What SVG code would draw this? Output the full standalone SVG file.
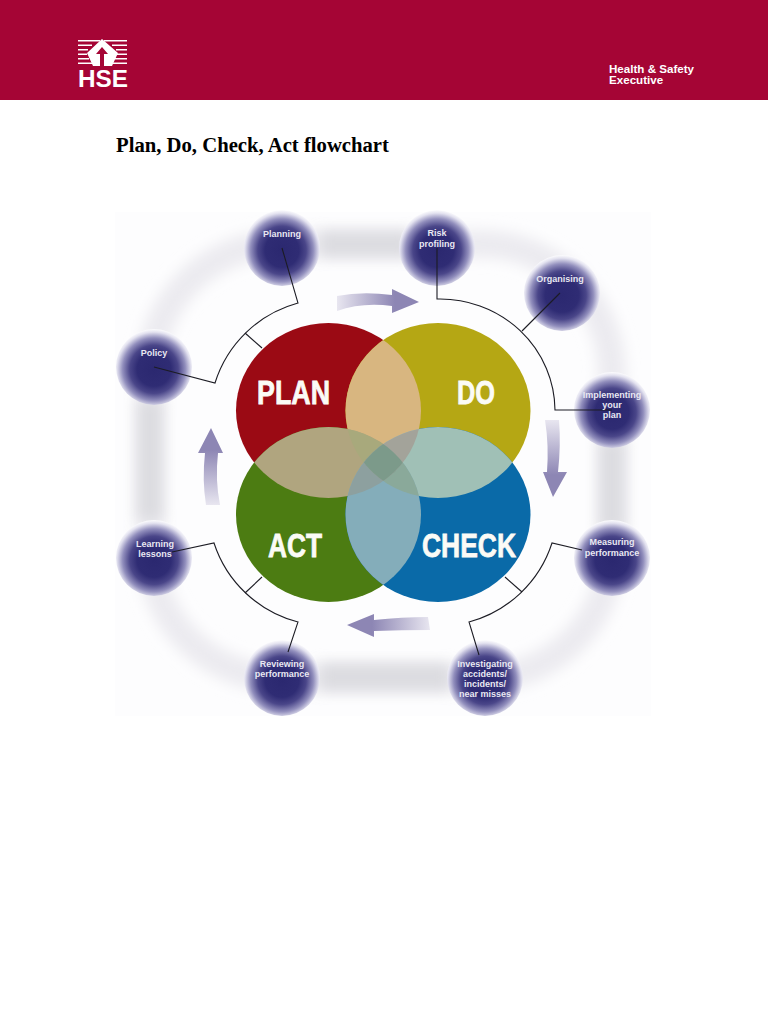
<svg xmlns="http://www.w3.org/2000/svg" width="768" height="1024" viewBox="0 0 768 1024">
<style>
.cn{fill:none;stroke:#1c1c24;stroke-width:1.1}
.nl{font-family:"Liberation Sans",Arial,sans-serif;font-weight:bold;font-size:9px;fill:#e9e8f2;text-anchor:middle}
.big{font-family:"Liberation Sans",Arial,sans-serif;font-weight:bold;font-size:34px;fill:#fbfbf6;stroke:#fbfbf6;stroke-width:0.8}
.ds{fill:url(#disc)}
</style>
<defs>
<filter id="blur" x="-20%" y="-20%" width="140%" height="140%"><feGaussianBlur stdDeviation="7"/></filter>
<radialGradient id="disc" cx="0.5" cy="0.53" r="0.53">
<stop offset="0" stop-color="#2b2870"/><stop offset="0.42" stop-color="#2f2c74"/><stop offset="0.6" stop-color="#4a4689"/><stop offset="0.78" stop-color="#928fbd"/><stop offset="0.92" stop-color="#e2e1ef"/><stop offset="1" stop-color="#fdfdfe"/>
</radialGradient>
<clipPath id="cP"><ellipse cx="328.5" cy="410.5" rx="92.5" ry="87.5"/></clipPath>
<clipPath id="cD"><ellipse cx="438" cy="410.5" rx="92.5" ry="87.5"/></clipPath>
<clipPath id="cA"><ellipse cx="328.5" cy="514.5" rx="92.5" ry="87.5"/></clipPath>
<clipPath id="cC"><ellipse cx="438" cy="514.5" rx="92.5" ry="87.5"/></clipPath>
<linearGradient id="aT" gradientUnits="userSpaceOnUse" x1="337" y1="0" x2="395" y2="0"><stop offset="0" stop-color="#e8e6f0"/><stop offset="1" stop-color="#8d86b4"/></linearGradient>
<linearGradient id="aR" gradientUnits="userSpaceOnUse" x1="0" y1="420" x2="0" y2="475"><stop offset="0" stop-color="#e8e6f0"/><stop offset="1" stop-color="#8d86b4"/></linearGradient>
<linearGradient id="aB" gradientUnits="userSpaceOnUse" x1="430" y1="0" x2="372" y2="0"><stop offset="0" stop-color="#e8e6f0"/><stop offset="1" stop-color="#8d86b4"/></linearGradient>
<linearGradient id="aL" gradientUnits="userSpaceOnUse" x1="0" y1="505" x2="0" y2="450"><stop offset="0" stop-color="#e8e6f0"/><stop offset="1" stop-color="#8d86b4"/></linearGradient>
</defs>
<rect width="768" height="1024" fill="#ffffff"/>
<g id="header">
<rect width="768" height="100" fill="#a50535"/>
<g id="logo" fill="#ffffff">
<path d="M78 40h22v1.600H78zM78 44.500h14v1.600H78zM78 49h10v1.600H78zM78 53.500h9v1.600H78zM78 58h11v1.600H78zM78 62.500h15v1.600H78zM104 40h23v1.600h-23zM112 44.500h15v1.600h-15zM116 49h11v1.600h-11zM117 53.500h10v1.600h-10zM115 58h12v1.600h-12zM110 62.500h17v1.600h-17z"/>
<path d="M102 39 L87 53 L93 66 L100 66 L100 54 L96 54 L102 47 L108 54 L104 54 L104 66 L112 66 L118 53Z"/>
<text x="78" y="87" font-family="'Liberation Sans',Arial,sans-serif" font-weight="bold" font-size="24" textLength="50" lengthAdjust="spacingAndGlyphs">HSE</text>
</g>
<g font-family="'Liberation Sans',Arial,sans-serif" font-weight="bold" font-size="11.600" fill="#ffffff">
<text x="609" y="73">Health &amp; Safety</text>
<text x="609" y="84">Executive</text>
</g>
</g>
<text id="title" x="116" y="151.500" font-family="'Liberation Serif','Times New Roman',serif" font-weight="bold" font-size="20.700" fill="#000000">Plan, Do, Check, Act flowchart</text>
<g id="backdrop">
<rect x="115" y="212" width="536" height="504" fill="#fdfdfe"/>
<rect x="150" y="244" width="462" height="434" rx="130" fill="none" stroke="#ecebf0" stroke-width="28" filter="url(#blur)"/>
<g filter="url(#blur)" fill="#dcdce0">
<rect x="138" y="400" width="24" height="120"/>
<rect x="600" y="440" width="24" height="90"/>
<rect x="320" y="664" width="130" height="26"/>
<rect x="320" y="232" width="90" height="24"/>
</g>
</g>
<g id="arrows">
<path fill="url(#aT)" d="M337 296 Q362 291 392 295 L392 289 L419 302 L392 313 L392 306 Q362 302 337 311Z"/>
<path fill="url(#aR)" d="M545 420 Q549 445 547 472 L543 472 L553 497 L567 472 L558 472 Q561 445 559 420Z"/>
<path fill="url(#aB)" d="M430 630 Q402 630 374 631 L374 637 L347 625 L374 614 L374 620 Q402 617 428 617Z"/>
<path fill="url(#aL)" d="M220 505 Q215 480 218 453 L223 453 L211 428 L198 453 L205 453 Q202 480 206 505Z"/>
</g>
<g id="venn">
<g id="plan"><ellipse cx="328.500" cy="410.500" rx="92.500" ry="87.500" fill="#9b0a14"/></g>
<g id="do"><ellipse cx="438" cy="410.500" rx="92.500" ry="87.500" fill="#b5a714"/></g>
<g id="act"><ellipse cx="328.500" cy="514.500" rx="92.500" ry="87.500" fill="#4c7c12"/></g>
<g id="check"><ellipse cx="438" cy="514.500" rx="92.500" ry="87.500" fill="#0a6aa8"/></g>
<ellipse cx="438" cy="410.500" rx="92.500" ry="87.500" fill="#d8b680" clip-path="url(#cP)"/>
<ellipse cx="328.500" cy="514.500" rx="92.500" ry="87.500" fill="#b0a57f" clip-path="url(#cP)"/>
<ellipse cx="438" cy="514.500" rx="92.500" ry="87.500" fill="#a0c0b6" clip-path="url(#cD)"/>
<ellipse cx="438" cy="514.500" rx="92.500" ry="87.500" fill="#84adba" clip-path="url(#cA)"/>
<g clip-path="url(#cP)"><ellipse cx="438" cy="410.500" rx="92.500" ry="87.500" fill="#a8a97c" clip-path="url(#cA)"/></g>
<g clip-path="url(#cD)"><ellipse cx="328.500" cy="514.500" rx="92.500" ry="87.500" fill="#8aa99a" clip-path="url(#cC)"/></g>
<g clip-path="url(#cP)"><ellipse cx="438" cy="514.500" rx="92.500" ry="87.500" fill="#8da09f" clip-path="url(#cA)"/></g>
<g clip-path="url(#cP)"><ellipse cx="438" cy="514.500" rx="92.500" ry="87.500" fill="#a3a39a" clip-path="url(#cD)"/></g>
<g clip-path="url(#cP)"><g clip-path="url(#cD)"><ellipse cx="328.500" cy="514.500" rx="92.500" ry="87.500" fill="#7c9a8a" clip-path="url(#cC)"/></g></g>
<text class="big" x="257" y="404" textLength="73" lengthAdjust="spacingAndGlyphs">PLAN</text>
<text class="big" x="457" y="404" textLength="38" lengthAdjust="spacingAndGlyphs">DO</text>
<text class="big" x="268" y="557" textLength="54" lengthAdjust="spacingAndGlyphs">ACT</text>
<text class="big" x="422" y="557" textLength="94" lengthAdjust="spacingAndGlyphs">CHECK</text>
</g>
<g id="discs">
<circle class="ds" cx="282" cy="248" r="38"/>
<circle class="ds" cx="437" cy="248" r="38"/>
<circle class="ds" cx="562" cy="293" r="38"/>
<circle class="ds" cx="154" cy="367" r="38"/>
<circle class="ds" cx="612" cy="410" r="38"/>
<circle class="ds" cx="154" cy="558" r="38"/>
<circle class="ds" cx="612" cy="558" r="38"/>
<circle class="ds" cx="282" cy="678" r="38"/>
<circle class="ds" cx="485" cy="678" r="38"/>
</g>
<g id="connectors">
<path class="cn" d="M154 367L215 383A120 120 0 0 1 298 303L282 248"/>
<path class="cn" d="M245 333L262 348"/>
<path class="cn" d="M437 248V299A115 112 0 0 1 555 410H612"/>
<path class="cn" d="M560 293L522 331"/>
<path class="cn" d="M172 552L214 543A120 120 0 0 0 298 622L288 652"/>
<path class="cn" d="M245 593L262 577"/>
<path class="cn" d="M582 550L552 543A120 120 0 0 1 469 622L479 655"/>
<path class="cn" d="M522 592L505 577"/>
</g>
<g id="labels">
<text class="nl" x="282" y="237">Planning</text>
<text class="nl" x="154" y="356">Policy</text>
<text class="nl" x="437" y="236">Risk</text><text class="nl" x="437" y="247">profiling</text>
<text class="nl" x="560" y="282">Organising</text>
<text class="nl" x="612" y="398">Implementing</text><text class="nl" x="612" y="408">your</text><text class="nl" x="612" y="418">plan</text>
<text class="nl" x="612" y="545">Measuring</text><text class="nl" x="612" y="556">performance</text>
<text class="nl" x="155" y="547">Learning</text><text class="nl" x="155" y="557">lessons</text>
<text class="nl" x="282" y="667">Reviewing</text><text class="nl" x="282" y="677">performance</text>
<text class="nl" x="485" y="667">Investigating</text><text class="nl" x="485" y="677">accidents/</text><text class="nl" x="485" y="687">incidents/</text><text class="nl" x="485" y="697">near misses</text>
</g>
</svg>
